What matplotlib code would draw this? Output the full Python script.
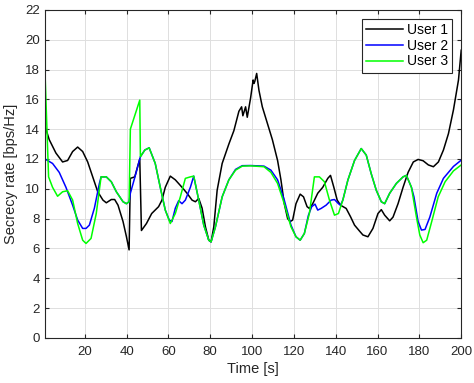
import matplotlib
matplotlib.use("Agg")
import matplotlib.pyplot as plt

plt.rcParams['font.family'] = ['Liberation Sans', 'DejaVu Sans']

# User 1 (black)
t1 = [1, 3, 6.2, 9.4, 11.8, 14.2, 16.6, 19, 21.4, 23.8, 26.2, 28.7, 30.3,
      32.7, 34.3, 35.9, 38.3, 39.9, 41.2, 41.8, 43.9, 46.3, 47.1, 49.5, 52,
      55.3, 56.9, 58.5, 60.9, 63.3, 66.5, 68.9, 71.3, 72.9, 74.5, 76.1,
      77.7, 79.3, 80.4, 81.7, 83.3, 85.7, 88.9, 91.3, 93.7, 95, 95.6, 96.9,
      97.7, 99.3, 100.5, 100.9, 101.3, 102.2, 103.3, 104.9, 107.3, 109.7,
      112.2, 113.8, 115.4, 117, 118.2, 119.4, 121, 123, 124.6, 126.3, 127.4,
      129, 131.4, 133.8, 136.2, 137.5, 139.1, 140.7, 142.3, 145, 147.1, 149,
      151.4, 153, 155.4, 157.8, 160.2, 161.8, 163.4, 165.8, 167.4, 169.8,
      172.2, 174.6, 177.1, 179.4, 181.8, 184.3, 186.7, 189.1, 191.5, 193.9,
      196.3, 198.7, 200]
user1 = [14.2, 13.3, 12.4, 11.8, 11.9, 12.5, 12.8, 12.5, 11.8, 10.8, 9.8,
         9.24, 9.06, 9.28, 9.28, 8.9, 7.8, 6.8, 5.9, 10.7, 10.8, 12.0, 7.2,
         7.67, 8.34, 8.8, 9.24, 10.1, 10.85, 10.6, 10.1, 9.7, 9.24, 9.13,
         9.35, 8.7, 7.45, 6.55, 6.44, 7.45, 9.9, 11.7, 13.0, 13.9, 15.2, 15.5,
         14.9, 15.5, 14.8, 16.1, 17.3, 17.07, 17.2, 17.74, 16.6, 15.5, 14.4,
         13.3, 11.9, 10.6, 9.0, 8.0, 7.8, 7.9, 9.0, 9.64, 9.46, 8.8, 8.68,
         9.0, 9.7, 10.1, 10.7, 10.9, 10.1, 9.24, 8.9, 8.68, 8.12, 7.56, 7.16,
         6.9, 6.78, 7.34, 8.34, 8.6, 8.23, 7.85, 8.1, 9.0, 10.1, 11.1, 11.8,
         11.97, 11.88, 11.6, 11.48, 11.8, 12.6, 13.7, 15.3, 17.3, 19.3]

# User 2 (blue)
t2 = [1, 4.6, 7.8, 11, 14.2, 16.6, 19, 20.6, 22.2, 24.6, 27, 27.8, 30.3,
      32.7, 35.1, 38.3, 39.9, 41.2, 41.8, 44, 46.3, 46.6, 48.7, 50.8, 53.7,
      56.1, 58.5, 60.4, 61.7, 63.3, 64.9, 66.5, 68.1, 70.5, 72.1, 74.5,
      76.9, 79.3, 80.4, 82.5, 85.7, 88.9, 92.1, 95.3, 99.3, 105.7, 109,
      112.2, 115.4, 118.6, 121, 123, 125, 126.9, 128.5, 130.1, 131.4, 133,
      135.4, 137.8, 139.4, 141.3, 142.3, 143.4, 145.8, 149, 152.2, 154.6,
      157, 159.4, 161.8, 163.4, 165.8, 169, 172.2, 173.8, 176.2, 177.4,
      179.4, 181, 182.7, 185, 188.3, 191.5, 196.3, 200]
user2 = [12.0, 11.7, 11.1, 10.1, 8.9, 7.9, 7.34, 7.34, 7.56, 8.7, 10.36,
         10.8, 10.8, 10.47, 9.8, 9.13, 9.0, 9.13, 9.7, 10.8, 12.0, 12.15,
         12.6, 12.75, 11.7, 10.1, 8.57, 7.9, 7.8, 8.7, 9.2, 9.0, 9.24, 10.1,
         10.85, 9.24, 7.56, 6.55, 6.44, 7.45, 9.46, 10.6, 11.3, 11.55, 11.56,
         11.52, 11.25, 10.6, 9.24, 7.56, 6.78, 6.55, 7.0, 8.2, 8.8, 8.97,
         8.57, 8.68, 8.9, 9.24, 9.28, 9.0, 8.9, 9.24, 10.58, 11.9, 12.7,
         12.26, 11.0, 9.9, 9.13, 9.0, 9.7, 10.36, 10.8, 10.9, 10.1, 9.46,
         7.8, 7.23, 7.27, 8.1, 9.7, 10.7, 11.5, 11.92]

# User 3 (green)
t3 = [1, 2.7, 4.6, 7, 9.4, 11.8, 14.2, 16.6, 19, 20.6, 23, 25.5, 27.8,
      30.3, 32.7, 35.1, 38.3, 39.9, 41.2, 41.8, 46.3, 46.6, 48.7, 50.8,
      53.7, 56.1, 58.5, 60.9, 63.3, 65.7, 68.1, 70.5, 72.1, 74.5, 76.9,
      79.3, 80.4, 82.5, 85.7, 88.9, 92.1, 95.3, 99.3, 105.7, 109, 112.2,
      115.4, 118.6, 121, 123, 125, 127.4, 129.8, 132.2, 134.6, 137, 139.4,
      141.3, 143.4, 145.8, 149, 152.2, 154.6, 157, 159.4, 161.8, 163.4,
      165.8, 169, 172.2, 173.8, 176.2, 178.6, 180.2, 181.8, 183.5, 185.9,
      189, 192.3, 196.3, 200]
user3 = [17.74, 10.8, 10.1, 9.5, 9.8, 9.87, 9.24, 7.67, 6.55, 6.33, 6.67,
         8.34, 10.8, 10.8, 10.47, 9.8, 9.13, 9.0, 9.13, 14.0, 15.95, 12.15,
         12.6, 12.75, 11.7, 10.1, 8.57, 7.67, 8.34, 9.46, 10.7, 10.8, 10.85,
         9.24, 7.56, 6.55, 6.44, 7.45, 9.46, 10.6, 11.25, 11.52, 11.54,
         11.48, 11.1, 10.36, 9.0, 7.45, 6.78, 6.55, 7.0, 8.34, 10.8, 10.8,
         10.47, 9.24, 8.23, 8.34, 9.24, 10.58, 11.9, 12.7, 12.26, 11.0, 9.9,
         9.13, 9.0, 9.7, 10.36, 10.8, 10.9, 10.1, 8.1, 6.9, 6.38, 6.55, 7.8,
         9.46, 10.47, 11.2, 11.6]

fig = plt.figure(figsize=(4.74, 3.83), dpi=100)
ax = fig.add_axes([0.095, 0.118, 0.878, 0.856])

ax.plot(t1, user1, color='black', lw=1.1, label='User 1')
ax.plot(t2, user2, color='#0000ff', lw=1.1, label='User 2')
ax.plot(t3, user3, color='#00ff00', lw=1.1, label='User 3')

ax.set_xlim(1, 200)
ax.set_ylim(0, 22)
ax.set_xticks(range(20, 201, 20))
ax.set_yticks(range(0, 23, 2))
ax.grid(True, color='#dedede', lw=0.7)
ax.tick_params(direction='in', length=3, labelsize=9.5, colors='#262626',
               top=True, right=True)
ax.tick_params(axis='x', pad=6)
for s in ax.spines.values():
    s.set_color('#262626')
    s.set_linewidth(0.8)

ax.set_xlabel('Time [s]', fontsize=10.5, color='#262626', labelpad=3)
ax.set_ylabel('Secrecy rate [bps/Hz]', fontsize=10.5, color='#262626', labelpad=5)

leg = ax.legend(loc='upper right', fontsize=10, fancybox=False, framealpha=1,
                edgecolor='#262626', handlelength=2.6, handletextpad=0.3,
                borderpad=0.3, labelspacing=0.12, borderaxespad=0.65)
leg.get_frame().set_linewidth(0.8)

fig.savefig('out.png', dpi=100)
